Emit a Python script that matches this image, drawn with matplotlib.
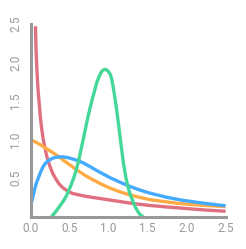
import matplotlib
matplotlib.use("Agg")
import matplotlib.pyplot as plt

# ------------------ valores ------------------
rojo_x = [0.064, 0.07, 0.08, 0.09, 0.10, 0.113, 0.125, 0.14, 0.16, 0.18, 0.20, 0.22, 0.25, 0.29, 0.33,
          0.37, 0.42, 0.48, 0.54, 0.61, 0.70, 0.76, 0.89, 1.02, 1.15, 1.28, 1.40, 1.53, 1.75, 2.0, 2.25, 2.5]
rojo_y = [2.47, 2.2, 1.95, 1.75, 1.6, 1.45, 1.3, 1.17, 1.02, 0.92, 0.82, 0.74, 0.65, 0.55, 0.48,
          0.42, 0.37, 0.33, 0.30, 0.285, 0.265, 0.255, 0.235, 0.215, 0.195, 0.175, 0.16, 0.145, 0.125, 0.105, 0.085, 0.07]

naranja_x = [0.0, 0.07, 0.14, 0.2, 0.27, 0.33, 0.39, 0.45, 0.52, 0.58, 0.64, 0.7, 0.76, 0.89, 1.02,
             1.15, 1.28, 1.40, 1.53, 1.75, 1.96, 2.25, 2.5]
naranja_y = [1.0, 0.965, 0.925, 0.885, 0.84, 0.80, 0.755, 0.71, 0.66, 0.615, 0.575, 0.535, 0.50, 0.43, 0.37,
             0.32, 0.28, 0.25, 0.22, 0.19, 0.165, 0.145, 0.13]

azul_x = [0.0, 0.02, 0.04, 0.07, 0.10, 0.13, 0.16, 0.19, 0.22, 0.26, 0.29, 0.33, 0.37, 0.42, 0.48,
          0.55, 0.61, 0.68, 0.76, 0.89, 1.02, 1.15, 1.28, 1.40, 1.53, 1.75, 1.96, 2.25, 2.5]
azul_y = [0.15, 0.21, 0.30, 0.42, 0.50, 0.58, 0.645, 0.69, 0.72, 0.745, 0.76, 0.77, 0.775, 0.775, 0.765,
          0.745, 0.725, 0.695, 0.65, 0.575, 0.505, 0.445, 0.39, 0.345, 0.305, 0.25, 0.21, 0.17, 0.14]

verde_x = [0.27, 0.32, 0.37, 0.42, 0.46, 0.52, 0.56, 0.59, 0.62, 0.645, 0.68, 0.71, 0.74, 0.78, 0.82,
           0.85, 0.88, 0.91, 0.935, 0.955, 0.975, 1.0, 1.02, 1.04, 1.06, 1.08, 1.105, 1.13, 1.15, 1.17,
           1.19, 1.22, 1.25, 1.28, 1.32, 1.35, 1.38, 1.41, 1.445]
verde_y = [0.0, 0.06, 0.13, 0.20, 0.27, 0.41, 0.52, 0.62, 0.74, 0.86, 1.02, 1.17, 1.31, 1.48, 1.63,
           1.74, 1.82, 1.88, 1.905, 1.91, 1.905, 1.88, 1.85, 1.79, 1.68, 1.55, 1.38, 1.18, 1.02, 0.86,
           0.70, 0.52, 0.38, 0.28, 0.18, 0.11, 0.06, 0.02, 0.0]

ticks = [0.0, 0.5, 1.0, 1.5, 2.0, 2.5]
etiquetas_y = ["", "0.5", "1.0", "1.5", "2.0", "2.5"]

gris = "#999999"
plt.rcParams['font.family'] = ['Roboto', 'DejaVu Sans']

fig = plt.figure(figsize=(2.46, 2.49), dpi=100)
ax = fig.add_axes([0.124, 0.13, 0.793, 0.774])

ancho = 2.4
estilo = dict(lw=ancho, solid_capstyle="butt", solid_joinstyle="round")
ax.plot(rojo_x, rojo_y, color="#e0707f", **estilo)
ax.plot(naranja_x, naranja_y, color="#ffab45", **estilo)
ax.plot(azul_x, azul_y, color="#44aaff", **estilo)
ax.plot(verde_x, verde_y, color="#44d898", **estilo)

ax.set_xlim(0, 2.5)
ax.set_ylim(0, 2.5)
ax.set_xticks(ticks)
ax.set_xticklabels([f"{t:.1f}" for t in ticks])
ax.set_yticks(ticks)
ax.set_yticklabels(etiquetas_y, rotation=90, va="center")

for lado in ["top", "right"]:
    ax.spines[lado].set_visible(False)
for lado in ["left", "bottom"]:
    ax.spines[lado].set_color(gris)
    ax.spines[lado].set_linewidth(2.2)

ax.tick_params(axis="both", length=0, labelsize=8.5, labelcolor=gris)
ax.tick_params(axis="x", pad=4)
ax.tick_params(axis="y", pad=6)

plt.savefig("out.png", dpi=100)
plt.close()
